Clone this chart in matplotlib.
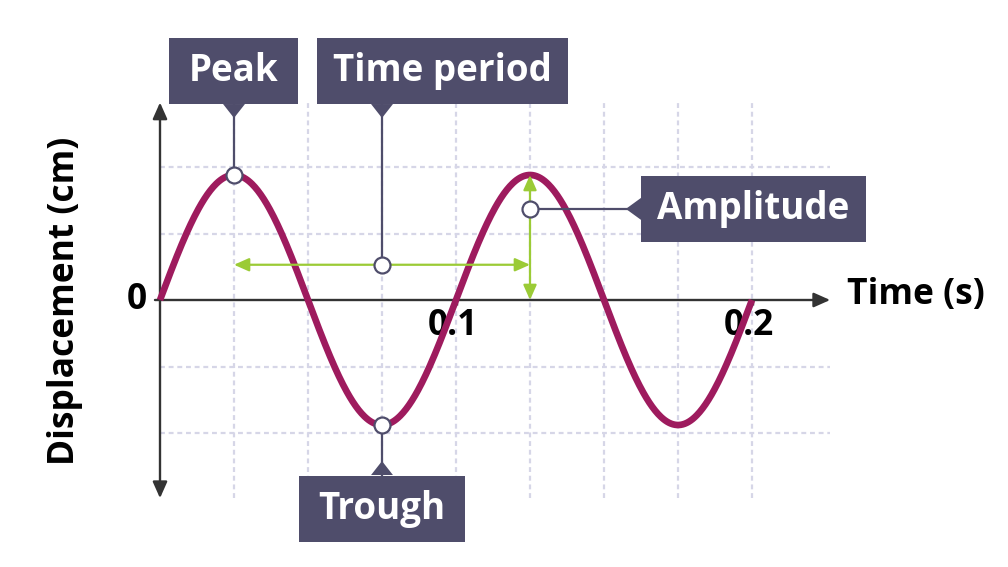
"""Transverse wave diagram: displacement against time with labelled peak, trough,
time period and amplitude."""

import matplotlib

matplotlib.use("Agg")

import matplotlib.pyplot as plt  # noqa: E402
import numpy as np  # noqa: E402
from matplotlib.patches import Polygon, Rectangle  # noqa: E402

# wave values
PERIOD = 0.1          # s
AMPLITUDE = 1.88      # cm (grid squares)
DURATION = 0.2        # s

TIME_TICKS = [0.1, 0.2]
TIME_TICK_LABELS = ["0.1", "0.2"]
GRID_T = [0.025, 0.05, 0.075, 0.1, 0.125, 0.15, 0.175, 0.2]
GRID_Y = [-2, -1, 1, 2]

# colours
WAVE = "#9E1B5E"
BOX = "#4F4D6B"
GREEN = "#9BCB36"
AXIS = "#333333"
GRIDC = "#D6D6E7"

plt.rcParams["font.family"] = ["Open Sans", "DejaVu Sans"]
plt.rcParams["font.weight"] = "bold"

fig = plt.figure(figsize=(10.08, 5.67), dpi=100)
ax = fig.add_axes([0, 0, 1, 1])
ax.set_xlim(-160 / 2960, 848 / 2960)
ax.set_ylim(-267 / 66.5, 300 / 66.5)
ax.axis("off")

x_end = 0.2264
y_top, y_bot = 2.97, -2.98

# dashed grid
ax.vlines(GRID_T, y_bot, 3.0, colors=GRIDC, linestyles=(0, (2.2, 1.7)), lw=1.6, zorder=1)
ax.hlines(GRID_Y, 0, x_end, colors=GRIDC, linestyles=(0, (2.2, 1.7)), lw=1.6, zorder=1)

# axes with arrow heads
ax.annotate("", xy=(0, y_top), xytext=(0, y_bot),
            arrowprops=dict(arrowstyle="<|-|>,head_length=0.45,head_width=0.2",
                            mutation_scale=22, color=AXIS, lw=1.7, shrinkA=0, shrinkB=0),
            zorder=3)
ax.annotate("", xy=(x_end, 0), xytext=(-0.0017, 0),
            arrowprops=dict(arrowstyle="-|>,head_length=0.45,head_width=0.2",
                            mutation_scale=22, color=AXIS, lw=1.7, shrinkA=0, shrinkB=0),
            zorder=3)
for t in TIME_TICKS:
    ax.plot([t, t], [0, -0.07], color=AXIS, lw=2.5, solid_capstyle="butt", zorder=3)

# the wave
t = np.linspace(0, DURATION, 600)
ax.plot(t, AMPLITUDE * np.sin(2 * np.pi * t / PERIOD), color=WAVE, lw=4.8,
        solid_capstyle="butt", zorder=4)

# axis text
ax.text(-0.0078, 0, "0", fontsize=25.5, ha="center", va="center", color="black")
for tv, lab in zip(TIME_TICKS, TIME_TICK_LABELS):
    ax.text(tv - 0.001, -0.39, lab, fontsize=25.5, ha="center", va="center", color="black")
ax.text(0.2322, 0.07, "Time (s)", fontsize=25.5, ha="left", va="center", color="black")
ax.text(-0.0321, -0.02, "Displacement (cm)", fontsize=25.5, rotation=90,
        ha="center", va="center", color="black")

# green measurement arrows
peak_t = PERIOD / 4
ax.annotate("", xy=(peak_t, 0.53), xytext=(peak_t + PERIOD, 0.53),
            arrowprops=dict(arrowstyle="<|-|>,head_length=0.45,head_width=0.2",
                            mutation_scale=20, color=GREEN, lw=1.6, shrinkA=0, shrinkB=0),
            zorder=5)
ax.annotate("", xy=(peak_t + PERIOD, AMPLITUDE), xytext=(peak_t + PERIOD, 0),
            arrowprops=dict(arrowstyle="<|-|>,head_length=0.45,head_width=0.2",
                            mutation_scale=20, color=GREEN, lw=1.6, shrinkA=0, shrinkB=0),
            zorder=5)

# label boxes
BOX_H = 0.99
TRI_W = 0.0074
TRI_H = 0.21


def label_box(x0, x1, y0, text):
    ax.add_patch(Rectangle((x0, y0), x1 - x0, BOX_H, color=BOX, lw=0, zorder=6))
    ax.text((x0 + x1) / 2, y0 + BOX_H / 2, text, fontsize=26.5, color="white",
            ha="center", va="center", zorder=7)


def marker(x, y):
    ax.plot(x, y, "o", ms=11.5, mfc="white", mec=BOX, mew=1.6, zorder=8)


# Peak
label_box(0.0030, 0.0466, 2.947, "Peak")
ax.add_patch(Polygon([(peak_t - TRI_W / 2, 2.947), (peak_t + TRI_W / 2, 2.947),
                      (peak_t, 2.947 - TRI_H)], color=BOX, lw=0, zorder=6))
ax.plot([peak_t, peak_t], [2.947, AMPLITUDE], color=BOX, lw=1.6, zorder=5)
marker(peak_t, AMPLITUDE)

# Time period
tp_t = 0.075
label_box(0.0530, 0.1378, 2.947, "Time period")
ax.add_patch(Polygon([(tp_t - TRI_W / 2, 2.947), (tp_t + TRI_W / 2, 2.947),
                      (tp_t, 2.947 - TRI_H)], color=BOX, lw=0, zorder=6))
ax.plot([tp_t, tp_t], [2.947, 0.53], color=BOX, lw=1.6, zorder=5)
marker(tp_t, 0.53)

# Trough
tr_t = 3 * PERIOD / 4
label_box(0.0470, 0.1030, -3.639, "Trough")
ax.add_patch(Polygon([(tr_t - TRI_W / 2, -2.632), (tr_t + TRI_W / 2, -2.632),
                      (tr_t, -2.632 + TRI_H)], color=BOX, lw=0, zorder=6))
ax.plot([tr_t, tr_t], [-2.632, -AMPLITUDE], color=BOX, lw=1.6, zorder=5)
marker(tr_t, -AMPLITUDE)

# Amplitude
amp_y = 1.37
amp_t = peak_t + PERIOD
label_box(0.1625, 0.2385, 0.872, "Amplitude")
ax.add_patch(Polygon([(0.1625, amp_y + 0.165), (0.1625, amp_y - 0.165),
                      (0.1625 - 0.0051, amp_y)], color=BOX, lw=0, zorder=6))
ax.plot([amp_t, 0.1625], [amp_y, amp_y], color=BOX, lw=1.6, zorder=5)
marker(amp_t, amp_y)

fig.savefig("out.png", dpi=100)
